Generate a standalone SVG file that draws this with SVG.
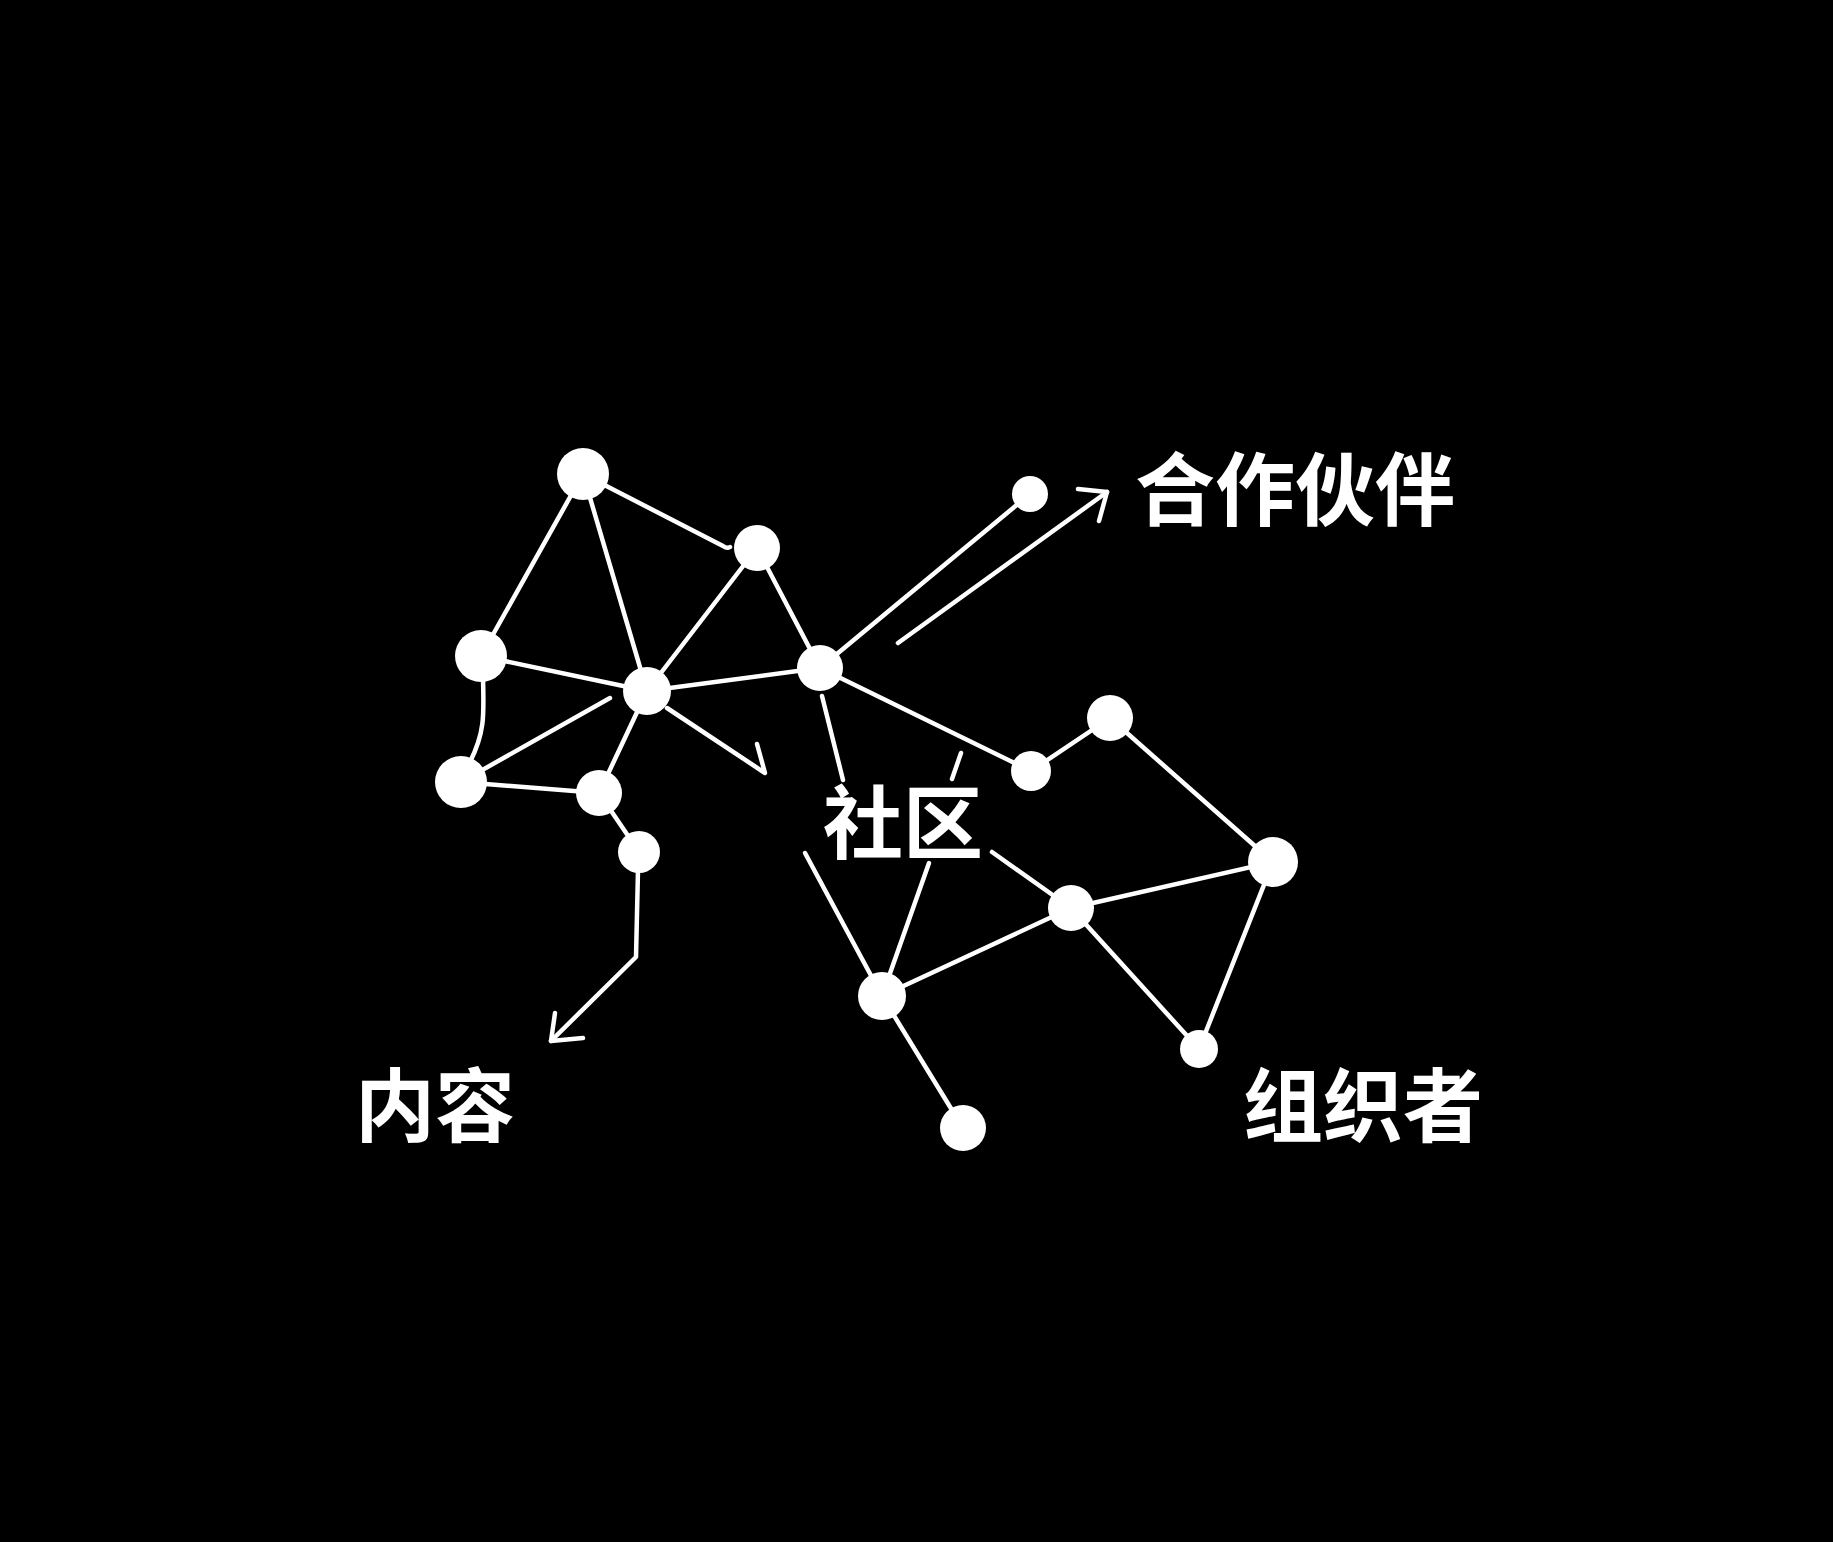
<svg xmlns="http://www.w3.org/2000/svg" width="1833" height="1542" viewBox="0 0 1833 1542">
<style>
.e{stroke:#fff;stroke-width:4.5;fill:none;stroke-linecap:round;stroke-linejoin:round}
.n{fill:#fff}
.t{fill:#fff;font-family:"Noto Sans CJK SC","Noto Sans",sans-serif;font-weight:700;font-size:80px}
</style>
<rect width="1833" height="1542" fill="#000"/>
<g id="connectors">
<line class="e" x1="583" y1="474" x2="481" y2="656"/>
<line class="e" x1="583" y1="474" x2="647" y2="691"/>
<path class="e" d="M583,474 L723,546 Q727,549 730,547"/>
<line class="e" x1="757" y1="548" x2="647" y2="691"/>
<line class="e" x1="757" y1="548" x2="820" y2="668"/>
<line class="e" x1="481" y1="656" x2="647" y2="691"/>
<path class="e" d="M483,678 C484,715 485,732 470,762"/>
<line class="e" x1="461" y1="782" x2="610" y2="698"/>
<line class="e" x1="461" y1="782" x2="599" y2="793"/>
<line class="e" x1="647" y1="691" x2="599" y2="793"/>
<line class="e" x1="599" y1="793" x2="639" y2="852"/>
<line class="e" x1="647" y1="691" x2="820" y2="668"/>
<path class="e" d="M667,708 L765,773 L757,744"/>
<line class="e" x1="820" y1="668" x2="1030" y2="494"/>
<line class="e" x1="898" y1="643" x2="1107" y2="492"/>
<path class="e" d="M1078,489 L1107,492 L1099,521"/>
<line class="e" x1="822" y1="696" x2="843" y2="780"/>
<line class="e" x1="820" y1="668" x2="1031" y2="771"/>
<line class="e" x1="1031" y1="771" x2="1110" y2="718"/>
<line class="e" x1="1110" y1="718" x2="1273" y2="862"/>
<line class="e" x1="961" y1="753" x2="952" y2="779"/>
<line class="e" x1="992" y1="852" x2="1071" y2="908"/>
<line class="e" x1="1071" y1="908" x2="1273" y2="862"/>
<line class="e" x1="1071" y1="908" x2="882" y2="996"/>
<line class="e" x1="1071" y1="908" x2="1199" y2="1049"/>
<line class="e" x1="1273" y1="862" x2="1199" y2="1049"/>
<line class="e" x1="805" y1="853" x2="882" y2="996"/>
<line class="e" x1="882" y1="996" x2="929" y2="863"/>
<line class="e" x1="882" y1="996" x2="963" y2="1128"/>
<path class="e" d="M638,870 L636,957 L551,1041"/>
<path class="e" d="M555,1013 L551,1041 L583,1038"/>
</g>
<g id="node-a"><circle class="n" cx="583" cy="474" r="26"/></g>
<g id="node-b"><circle class="n" cx="757" cy="548" r="23"/></g>
<g id="node-c"><circle class="n" cx="481" cy="656" r="26"/></g>
<g id="node-d"><circle class="n" cx="647" cy="691" r="24"/></g>
<g id="node-e"><circle class="n" cx="820" cy="668" r="23"/></g>
<g id="node-f"><circle class="n" cx="461" cy="782" r="26"/></g>
<g id="node-g"><circle class="n" cx="599" cy="793" r="23"/></g>
<g id="node-p"><circle class="n" cx="639" cy="852" r="21"/></g>
<g id="node-h"><circle class="n" cx="1030" cy="494" r="18"/></g>
<g id="node-i"><circle class="n" cx="1031" cy="771" r="20"/></g>
<g id="node-j"><circle class="n" cx="1110" cy="718" r="23"/></g>
<g id="node-k"><circle class="n" cx="1273" cy="862" r="25"/></g>
<g id="node-l"><circle class="n" cx="1071" cy="908" r="23"/></g>
<g id="node-m"><circle class="n" cx="882" cy="996" r="24"/></g>
<g id="node-n"><circle class="n" cx="963" cy="1128" r="23"/></g>
<g id="node-o"><circle class="n" cx="1199" cy="1049" r="19"/></g>
<g id="label-partner"><text class="t" x="1135" y="519">合作伙伴</text></g>
<g id="label-community"><text class="t" x="823" y="852">社区</text></g>
<g id="label-content"><text class="t" x="355" y="1135">内容</text></g>
<g id="label-organizer"><text class="t" x="1243" y="1135">组织者</text></g>
</svg>
